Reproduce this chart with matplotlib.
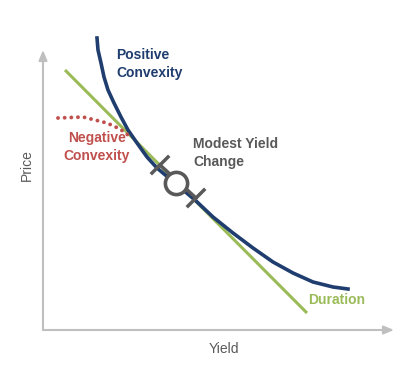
import matplotlib.pyplot as plt

# coordinates in chart units: yield to the right, price upward, origin at axis corner
pos_yield = [54, 55, 58, 61, 65, 71, 78, 85, 94, 104, 114, 133, 152, 170, 190,
             210, 230, 250, 270, 290, 305]
pos_price = [292, 280, 267, 253, 240, 227, 213, 200, 187, 173, 162, 146, 130, 113,
             97, 82, 68, 57, 48, 43, 41]

dur_yield = [22, 264]
dur_price = [260, 17]

neg_yield = [15, 40, 64, 77, 89]
neg_price = [212, 213, 207, 201, 192]

point = (133, 147)
tick_a = (117, 165)
tick_b = (153, 132)

BLUE = "#1f3d6e"
GREEN = "#9bbb59"
RED = "#c0504d"
GRAY = "#595959"
AXIS = "#bfbfbf"

plt.rcParams["font.family"] = ["Liberation Sans", "DejaVu Sans"]

fig = plt.figure(figsize=(4.16, 3.67), dpi=100)
ax = fig.add_axes([0, 0, 1, 1])
ax.set_xlim(-43, 373)
ax.set_ylim(-37, 330)
ax.axis("off")

# axes with arrows
ax.annotate("", xy=(0, 280), xytext=(0, 0),
            arrowprops=dict(arrowstyle="-|>,head_length=0.6,head_width=0.25",
                            color=AXIS, lw=1.5, shrinkA=0, shrinkB=0))
ax.annotate("", xy=(351, 0), xytext=(0, 0),
            arrowprops=dict(arrowstyle="-|>,head_length=0.6,head_width=0.25",
                            color=AXIS, lw=1.5, shrinkA=0, shrinkB=0))

ax.plot(dur_yield, dur_price, color=GREEN, lw=2.2, solid_capstyle="butt")
ax.plot(pos_yield, pos_price, color=BLUE, lw=2.6, solid_joinstyle="round")
ax.plot(neg_yield, neg_price, color=RED, lw=2.8, linestyle=(0, (0.01, 1.7)),
        dash_capstyle="round")

# modest yield change marker
ax.plot([tick_a[0], tick_b[0]], [tick_a[1], tick_b[1]], color=GRAY, lw=2.5, zorder=4)
for tx, ty in (tick_a, tick_b):
    ax.plot([tx - 8, tx + 8], [ty - 8, ty + 8], color=GRAY, lw=2.5, zorder=4)
ax.plot(*point, marker="o", ms=16, mfc="white", mec=GRAY, mew=2.6, zorder=5)

ax.text(73, 282, "Positive\nConvexity", color=BLUE, fontsize=10, fontweight="bold",
        ha="left", va="top", linespacing=1.4)
ax.text(54, 199, "Negative\nConvexity", color=RED, fontsize=10, fontweight="bold",
        ha="center", va="top", linespacing=1.4)
ax.text(150, 193, "Modest Yield\nChange", color=GRAY, fontsize=10, fontweight="bold",
        ha="left", va="top", linespacing=1.4)
ax.text(265, 30, "Duration", color=GREEN, fontsize=10, fontweight="bold",
        ha="left", va="center")
ax.text(-16, 165, "Price", color=GRAY, fontsize=10, rotation=90,
        ha="center", va="center")
ax.text(181, -19, "Yield", color=GRAY, fontsize=10, ha="center", va="center")

fig.savefig("out.png", dpi=100)
